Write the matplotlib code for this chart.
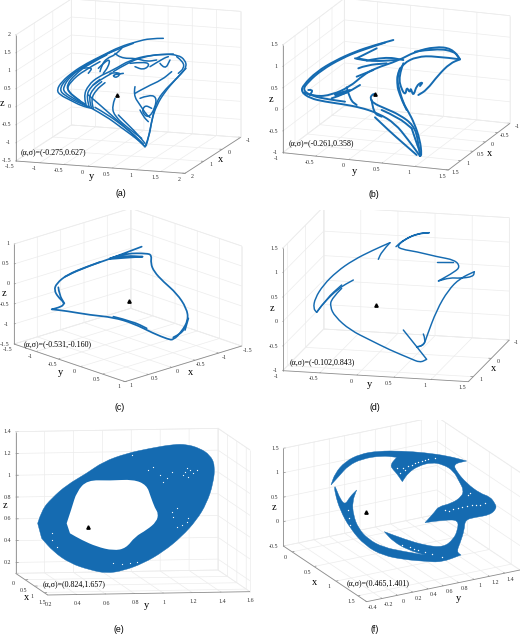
#!/usr/bin/env python
# -*- coding: utf-8 -*-
"""Six attractor panels, traced from the picture (coordinates are screen-plane readings)."""

import numpy as np
import matplotlib
matplotlib.use('Agg')
import matplotlib.pyplot as plt
from matplotlib.path import Path
from matplotlib.patches import PathPatch

BLUE = '#156bb1'
GRID = '#ececec'
AXIS = '#8c8c8c'

# traced strands, panel (a); a repeated point keeps a tip sharp
strands_a = [
    [(340,25),(300,25),(260,35),(210,50),(160,75),(110,100),(70,125),(35,155),(20,180),(30,195),(60,210),(95,228),(125,235)],
    [(250,40),(190,62),(130,92),(80,122),(45,150),(28,180),(45,197),(85,218),(120,232)],
    [(195,60),(150,82),(100,110),(60,140),(40,170),(42,187),(75,208),(110,228)],
    [(170,75),(120,100),(75,133),(50,165),(55,185),(90,212)],
    [(150,95),(100,122),(62,155),(50,178),(70,200),(105,222)],
    [(190,125),(230,100),(280,80),(340,72),(385,75),(405,90),(410,110),(395,130),(370,155),(340,185),(320,215),(310,250),(300,300),(290,345),(285,350),(285,350),(270,335),(240,305),(195,265),(150,225),(115,195)],
    [(285,350),(298,320),(305,270),(320,225),(345,185),(375,150),(408,115)],
    [(125,235),(170,260),(210,290),(245,315),(270,335),(285,350)],
    [(135,232),(175,255),(215,285),(250,312),(280,342)],
    [(110,230),(100,200),(115,165),(145,140),(190,120),(240,90),(300,75),(370,72)],
    [(118,232),(108,200),(122,170),(150,148)],
    [(125,235),(115,205),(130,175),(155,155)],
    [(130,235),(122,210),(138,180),(165,158)],
    [(150,125),(155,105),(170,85),(195,75),(215,55)],
    [(145,115),(165,95),(180,88),(175,110),(160,130)],
    [(195,70),(210,85),(260,85),(290,95),(320,90)],
    [(240,100),(285,95),(300,105),(280,120),(255,110)],
    [(180,130),(215,125),(200,145),(185,135),(220,130)],
    [(300,110),(340,85),(355,80)],
    [(330,100),(345,120),(360,90)],
    [(380,80),(400,95),(402,115),(385,130)],
    [(195,205),(185,230),(195,260),(235,295),(275,325)],
    [(255,170),(250,195),(270,225),(290,255),(300,262)],
    [(270,205),(295,195),(320,200),(315,235),(295,265),(275,245),(285,225),(305,235)],
    [(255,190),(290,170),(335,150),(365,125)],
    [(270,240),(280,260),(295,275)],
    [(100,115),(130,110),(115,130)],
    [(130,165),(150,150),(185,130)],
    [(285,340),(265,315),(240,290),(205,255)],
]

# traced strands, panel (b)
strands_b = [
    [(295,30),(240,45),(180,65),(120,92),(65,125),(25,165),(18,185),(45,205),(90,215),(140,222),(195,232),(250,250),(300,280),(340,330),(375,378)],
    [(270,38),(200,60),(140,85),(80,120),(40,155),(22,180),(50,198),(100,208),(150,215)],
    [(25,188),(60,200),(110,195),(165,170),(205,135),(240,115),(310,92),(360,65),(420,50),(470,55),(495,88),(495,88),(465,100),(430,135),(395,180),(370,195)],
    [(495,88),(420,78),(365,80),(325,100),(305,135),(310,170),(325,220),(340,245),(358,280),(375,330),(380,375),(375,378)],
    [(325,100),(310,140),(320,180),(332,195),(335,170),(345,190),(347,172),(355,200),(365,165),(385,155),(375,168)],
    [(240,262),(285,305),(325,340),(365,375)],
    [(375,378),(370,330),(355,285),(315,255),(270,235),(235,220),(225,205),(232,193),(240,192)],
    [(230,210),(235,250),(260,260)],
    [(180,85),(220,95),(305,90)],
    [(245,55),(205,75),(185,85),(185,85),(215,90)],
    [(190,115),(215,105),(275,100)],
    [(185,140),(235,120)],
    [(155,172),(165,210),(185,225)],
    [(160,185),(140,195),(110,195),(165,180)],
    [(40,180),(55,178),(45,195)],
    [(360,65),(425,55),(480,65),(493,85)],
    [(350,295),(365,340),(377,372)],
    [(315,115),(302,155),(318,205),(335,240)],
    [(110,205),(150,192),(195,165)],
    [(215,92),(270,80),(325,90)],
    [(260,240),(310,262),(350,295)],
]

# traced strands, panel (c)
strands_c = [
    [(425,110),(380,127),(320,150),(260,170),(200,195),(170,220),(162,240),(175,262),(190,275),(192,285),(175,293),(155,298),(155,298),(200,303),(270,315),(340,322),(400,340),(460,370),(505,388),(520,390),(545,365),(565,330),(560,295),(530,250),(490,215),(462,185),(452,160),(455,135),(440,130),(380,130),(330,145),(330,145),(380,137),(428,140),(428,140),(380,143),(330,147)],
    [(175,232),(178,255),(193,280)],
    [(520,382),(545,370),(555,350)],
    [(555,360),(565,325)],
    [(340,320),(400,335),(440,355)],
    [(300,156),(240,178),(195,200)],
]

# traced strands, panel (d)
strands_d = [
    [(390,98),(390,98),(340,120),(280,150),(230,185),(190,225),(165,265),(160,295),(170,307),(170,307),(190,280),(235,235),(280,210)],
    [(170,307),(200,265),(245,225)],
    [(245,235),(215,265),(210,290),(225,320),(270,360),(330,390),(390,420),(450,445),(480,458),(500,448),(500,448),(470,410),(430,360)],
    [(470,410),(490,410),(500,380),(530,300),(565,240),(600,205),(643,185),(643,185),(640,200),(600,205),(570,203),(535,213),(535,213),(585,185),(600,170),(585,150),(530,140),(470,125),(425,118),(410,108),(440,85),(475,70),(508,68),(508,68),(470,72),(430,90),(408,110)],
    [(390,98),(365,125),(355,148)],
    [(530,155),(580,155)],
    [(490,372),(497,390),(490,405),(470,412)],
]

# filled regions, panel (e)
outer_e = [(113,310),(125,270),(155,235),(200,195),(260,160),(310,125),(380,100),(450,85),(520,73),(560,73),(600,85),(630,105),(645,135),(640,190),(620,250),(590,300),(545,350),(490,395),(430,430),(370,452),(320,460),(270,450),(210,430),(160,395),(125,355)]
inner_e = [(200,310),(215,265),(230,215),(262,180),(330,182),(400,178),(440,195),(452,230),(465,265),(475,280),(470,305),(440,330),(405,350),(378,385),(340,392),(290,380),(245,360),(210,340)]
speckle_e = [(555,155),(560,145),(570,150),(550,165),(580,160),(565,170),(590,150),(545,315),(560,305),(530,320),(565,295),(520,290),(515,275),(530,265),(490,185),(500,175),(480,165),(515,155),(170,382),(155,340),(157,360),(340,430),(365,432),(390,430),(410,425),(395,105),(460,140),(445,150)]

# filled region, panel (f): outer edge, then back along the inner edge
ring_f = [(18,135),(18,135),(30,100),(60,65),(105,42),(160,33),(230,33),(300,38),(370,48),(425,63),(425,63),(385,72),(395,95),(425,130),(465,160),(495,170),(510,190),(515,205),(495,225),(450,232),(420,240),(418,270),(405,310),(395,335),(408,345),(408,345),(350,367),(300,364),(240,359),(175,347),(120,317),(75,265),(45,210),(30,160),
          (28,135),(35,150),(45,175),(60,195),(75,170),(95,150),(95,150),(82,185),(85,225),(100,265),(130,298),(175,322),(240,335),(300,345),(300,345),(250,330),(205,305),(178,275),(178,275),(240,298),(300,316),(355,322),(385,298),(398,270),(400,240),(360,240),(300,248),(300,248),(330,215),(340,200),(380,190),(410,170),(416,150),(403,125),(385,92),(355,74),(320,67),(280,78),(250,98),(232,125),(232,125),(215,100),(205,90),(195,75),(215,52),(215,52),(170,47),(110,57),(70,77),(45,105)]
speckle_f = [(215,85),(225,100),(235,85),(250,78),(260,74),(270,70),(280,66),(290,62),(300,60),(310,58),(330,55),(360,210),(372,212),(385,208),(398,205),(410,200),(425,198),(440,195),(452,195),(465,195),(480,190),(435,160),(430,165),(70,210),(72,235),(75,255),(80,275),(255,320),(268,326),(280,330),(300,336),(320,342),(350,350),(230,315),(240,90)]

# tick labels per panel: (along A-B, along B-C, z)
ticks_a = ([-1.5,-1,-0.5,0,0.5,1,1.5,2], [-1,0,1,2], [-1.5,-1,-0.5,0,0.5,1,1.5,2])
ticks_b = ([-1,-0.5,0,0.5,1,1.5], [-1,-0.5,0,0.5,1,1.5], [-1,-0.5,0,0.5,1,1.5])
ticks_c = ([-1.5,-1,-0.5,0,0.5,1], [1,0.5,0,-0.5,-1,-1.5], [-1.5,-1,-0.5,0,0.5,1])
ticks_d = ([-1,-0.5,0,0.5,1,1.5], [-1,0,1], [-1,-0.5,0,0.5,1,1.5])
ticks_e = ([0,0.5,1,1.5], [0.2,0.4,0.6,0.8,1,1.2,1.4,1.6], [0.2,0.4,0.6,0.8,1,1.2,1.4])
ticks_f = ([0,0.5,1,1.5], [-0.4,-0.2,0,0.2,0.4,0.6,0.8,1,1.2,1.4], [-0.5,0,0.5,1,1.5])

captions = ['(α,σ)=(-0.275,0.627)', '(α,σ)=(-0.261,0.358)', '(α,σ)=(-0.531,-0.160)',
            '(α,σ)=(-0.102,0.843)', '(α,σ)=(0.824,1.657)', '(α,σ)=(0.465,1.401)']


def fmt(v):
    return ('%g' % v)


def smooth_path(pts, shift=(0, 0), closed=False):
    """Quadratic curve through the midpoints, so the strands have no kinks."""
    pts = np.array(pts, float) + np.array(shift, float)
    verts = [pts[0]]
    codes = [Path.MOVETO]
    for i in range(1, len(pts) - 1):
        verts += [pts[i], (pts[i] + pts[i + 1]) / 2]
        codes += [Path.CURVE3, Path.CURVE3]
    verts.append(pts[-1])
    codes.append(Path.LINETO)
    if closed:
        verts.append(pts[0])
        codes.append(Path.CLOSEPOLY)
    return Path(verts, codes)


def draw_box(ax, A, B, C, h, ab, bc, zz, ab_lim, bc_lim, z_lim, ab_off, bc_off):
    """Grey box: floor A-B-C-D plus the two back walls, everything parallel projected."""
    A, B, C = np.array(A, float), np.array(B, float), np.array(C, float)
    D = A + C - B
    up = np.array([0, -h], float)

    def seg(pts, col=GRID, lw=0.5):
        pts = np.array(pts)
        ax.plot(pts[:, 0], pts[:, 1], color=col, lw=lw, zorder=1, solid_capstyle='butt')

    tick_font = dict(fontsize=4.3, color='#333333', family='Liberation Serif', va='center')
    for t in ab:
        P = A + (t - ab_lim[0]) / (ab_lim[1] - ab_lim[0]) * (B - A)
        seg([P, P + (C - B), P + (C - B) + up])
        seg([P, P + 0.015 * (C - B)], AXIS)
        ax.text(*(P + ab_off), fmt(t), ha='center', **tick_font)
    for t in bc:
        Q = B + (t - bc_lim[0]) / (bc_lim[1] - bc_lim[0]) * (C - B)
        seg([Q, Q + (A - B), Q + (A - B) + up])
        seg([Q, Q + 0.015 * (A - B)], AXIS)
        ax.text(*(Q + bc_off), fmt(t), ha='center', **tick_font)
    for t in zz:
        Z = up * (t - z_lim[0]) / (z_lim[1] - z_lim[0])
        seg([A + Z, D + Z, C + Z])
        seg([A + Z, A + Z + 0.015 * (D - A)], AXIS)
        ax.text(A[0] - 14, A[1] + Z[1], fmt(t), ha='right', **tick_font)
    # outer edges of the walls
    seg([D, D + up])
    seg([A + up, D + up, C + up])
    seg([C, C + up])
    seg([A, D, C])
    seg([A, B, C], AXIS, 0.6)
    seg([A, A + up], AXIS, 0.6)


def finish(ax, marker, caption, cap_xy, label, label_xy, xlab, ylab, zlab):
    ax.plot(*marker, marker='^', color='black', ms=2.4, zorder=6)
    ax.text(*cap_xy, caption, fontsize=5.8, va='center', family='Liberation Serif', zorder=7)
    ax.text(*label_xy, label, fontsize=6.3, ha='center', va='center', family='Liberation Sans')
    for xy, s in ((xlab, 'x'), (ylab, 'y'), (zlab, 'z')):
        ax.text(*xy, s, fontsize=7.5, ha='center', va='center', family='Liberation Serif')


def draw_strands(ax, strands, lw=1.0, shift=(0, 0)):
    for s in strands:
        ax.add_patch(PathPatch(smooth_path(s, shift), fill=False, edgecolor=BLUE, lw=lw,
                               zorder=4, capstyle='round', joinstyle='round'))


def draw_fill(ax, poly, speckle, holes=None, shift=(0, 0), size=0.8):
    ax.add_patch(PathPatch(smooth_path(poly, shift, closed=True), facecolor=BLUE, edgecolor=BLUE, lw=0.3, zorder=4))
    if holes is not None:
        ax.add_patch(PathPatch(smooth_path(holes, shift, closed=True), facecolor='white', edgecolor='none', zorder=4.5))
    sp = np.array(speckle, float) + np.array(shift, float)
    ax.scatter(sp[:, 0], sp[:, 1], s=size, color='white', lw=0, zorder=5)


fig = plt.figure(figsize=(5.2, 6.34), dpi=100)


def panel(x0, y0, w, h):
    ax = fig.add_axes([x0 / 520, 1 - (y0 + h) / 634, w / 520, h / 634])
    ax.set_xlim(0, w * 3)
    ax.set_ylim(h * 3, 0)
    ax.axis('off')
    return ax


# (a)
ax = panel(0, 0, 260, 210)
draw_box(ax, (47,483), (555,520), (722,412), 378, ticks_a[0], ticks_a[1], ticks_a[2],
         (-1.5,2), (2,-1), (-1.5,2), (-18,18), (22,8))
draw_strands(ax, strands_a, 1.1, shift=(150,90))
finish(ax, (350,285), captions[0], (62,456), '(a)', (362,582), (662,480), (275,530), (5,312))

# (b)
ax = panel(260, 0, 260, 210)
draw_box(ax, (68,458), (565,510), (750,370), 323, ticks_b[0], ticks_b[1], ticks_b[2],
         (-1,1.5), (1.5,-1), (-1,1.5), (-18,18), (22,8))
draw_strands(ax, strands_b, 1.4, shift=(105,90))
finish(ax, (345,282), captions[1], (85,431), '(b)', (343,585), (690,462), (283,513), (33,298))

# (c)
ax = panel(0, 210, 260, 210)
draw_box(ax, (42,402), (375,515), (725,408), 300, ticks_c[0], ticks_c[1], ticks_c[2],
         (-1.5,1), (1,-1.5), (-1.5,1), (-18,16), (18,12))
draw_strands(ax, strands_c, 1.25)
finish(ax, (388,273), captions[2], (72,402), '(c)', (358,594), (572,488), (182,488), (13,250))

# (d)
ax = panel(260, 210, 260, 210)
draw_box(ax, (68,482), (625,515), (748,390), 367, ticks_d[0], ticks_d[1], ticks_d[2],
         (-1,1.5), (1.27,-1), (-1,1.5), (-18,18), (22,8))
draw_strands(ax, strands_d, 1.05)
finish(ax, (348,284), captions[3], (88,457), '(d)', (345,594), (702,476), (328,523), (37,296))

# (e)
ax = panel(0, 420, 260, 214)
draw_box(ax, (47,460), (143,525), (750,515), 425, ticks_e[0], ticks_e[1], ticks_e[2],
         (0,1.7), (0.2,1.6), (0.1,1.4), (-6,31), (2,28))
draw_fill(ax, outer_e, speckle_e, inner_e)
finish(ax, (265,320), captions[4], (128,492), '(e)', (357,628), (80,532), (440,556), (15,258))

# (f)
ax = panel(260, 420, 260, 214)
draw_box(ax, (70,378), (320,545), (780,450), 293, ticks_f[0], ticks_f[1], ticks_f[2],
         (-0.2,1.7), (-0.4,1.6), (-0.5,1.5), (-20,17), (18,18))
draw_fill(ax, ring_f, speckle_f, shift=(195,60), size=1.0)
finish(ax, (318,277), captions[5], (260,490), '(f)', (345,628), (163,487), (595,535), (42,263))

plt.savefig('out.png', dpi=100)
plt.close()
